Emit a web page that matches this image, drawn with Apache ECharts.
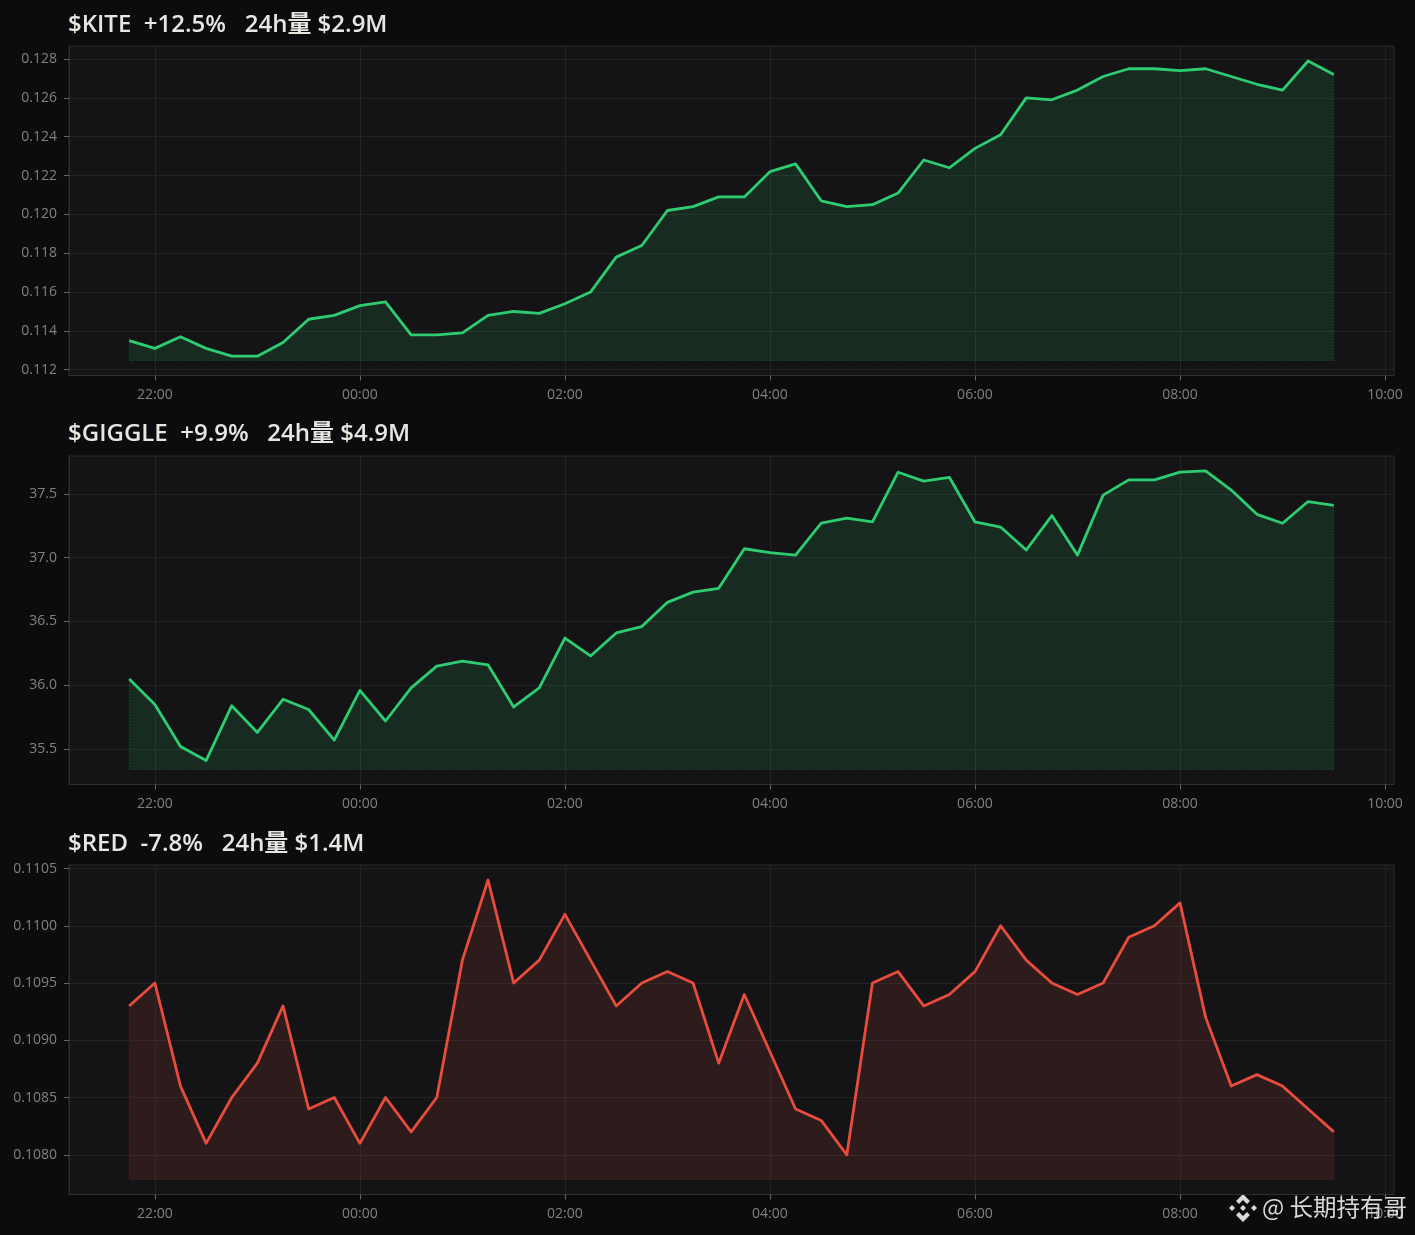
<!DOCTYPE html>
<html><head><meta charset="utf-8">
<style>html,body{margin:0;padding:0;background:#0c0c0e}#c{width:1415px;height:1235px}</style>
<script src="https://cdn.jsdelivr.net/npm/echarts@6/dist/echarts.min.js"></script>
</head><body><div id="c"></div>
<script>
const startHour = 21.75;
const xTickHours = [22, 24, 26, 28, 30, 32, 34];

const kiteTitle = '$KITE  +12.5%   24h量 $2.9M';
const giggleTitle = '$GIGGLE  +9.9%   24h量 $4.9M';
const redTitle = '$RED  -7.8%   24h量 $1.4M';

const kiteValues = [.1135,.1131,.1137,.1131,.1127,.1127,.1134,.1146,.1148,.1153,.1155,.1138,.1138,.1139,.1148,.1150,.1149,.1154,.1160,.1178,.1184,.1202,.1204,.1209,.1209,.1222,.1226,.1207,.1204,.1205,.1211,.1228,.1224,.1234,.1241,.1260,.1259,.1264,.1271,.1275,.1275,.1274,.1275,.1271,.1267,.1264,.1279,.1272];
const giggleValues = [36.05,35.85,35.52,35.41,35.84,35.63,35.89,35.81,35.57,35.96,35.72,35.98,36.15,36.19,36.16,35.83,35.98,36.37,36.23,36.41,36.46,36.65,36.73,36.76,37.07,37.04,37.02,37.27,37.31,37.28,37.67,37.60,37.63,37.28,37.24,37.06,37.33,37.02,37.49,37.61,37.61,37.67,37.68,37.53,37.34,37.27,37.44,37.41];
const redValues = [.1093,.1095,.1086,.1081,.1085,.1088,.1093,.1084,.1085,.1081,.1085,.1082,.1085,.1097,.1104,.1095,.1097,.1101,.1097,.1093,.1095,.1096,.1095,.1088,.1094,.1089,.1084,.1083,.1080,.1095,.1096,.1093,.1094,.1096,.1100,.1097,.1095,.1094,.1095,.1099,.1100,.1102,.1092,.1086,.1087,.1086,.1084,.1082];

const kiteTicks = [.112,.114,.116,.118,.120,.122,.124,.126,.128];
const giggleTicks = [35.5,36,36.5,37,37.5];
const redTicks = [.108,.1085,.109,.1095,.11,.1105];

const panels = [
  {title: kiteTitle, values: kiteValues, ticks: kiteTicks, dec: 3, color: '#2ecc71', rgb: '46,204,113', top: 46, h: 329.5, titleTop: 13},
  {title: giggleTitle, values: giggleValues, ticks: giggleTicks, dec: 1, color: '#2ecc71', rgb: '46,204,113', top: 456, h: 328.5, titleTop: 422},
  {title: redTitle, values: redValues, ticks: redTicks, dec: 4, color: '#e74c3c', rgb: '231,76,60', top: 865, h: 329.5, titleTop: 832}
];
const hours = kiteValues.map((_, i) => startHour + i / 4);
const xSpan = hours[hours.length - 1] - hours[0];
const xMin = hours[0] - xSpan * 0.05, xMax = hours[hours.length - 1] + xSpan * 0.05;
const two = n => String(n).padStart(2, '0');
const FONT = '"Open Sans","Noto Sans CJK SC",sans-serif';

const grid = [], xAxis = [], yAxis = [], series = [], title = [];
panels.forEach((p, i) => {
  const lo = Math.min(...p.values) * 0.998, hi = Math.max(...p.values);
  const pad = (hi - lo) * 0.05;
  title.push({text: p.title, left: 68, top: p.titleTop, padding: 0,
    textStyle: {color: '#e8e6e1', fontSize: 24, fontWeight: 600, fontFamily: FONT}});
  grid.push({left: 69, width: 1325, top: p.top, height: p.h, backgroundColor: '#141416', show: true, borderColor: '#2a2b2d', borderWidth: 1});
  xAxis.push({type: 'value', gridIndex: i, min: xMin, max: xMax, scale: true,
    axisLine: {show: true, onZero: false, lineStyle: {color: '#2e2f31'}},
    axisTick: {show: true, length: 5, customValues: xTickHours, lineStyle: {color: '#66676a'}},
    axisLabel: {show: true, customValues: xTickHours, color: '#808183', fontSize: 14, fontFamily: FONT, margin: 12.5, hideOverlap: false,
      formatter: v => two(v % 24) + ':00'},
    splitLine: {show: true, lineStyle: {color: '#222325', width: 1}}});
  yAxis.push({type: 'value', gridIndex: i, min: lo - pad, max: hi + pad, scale: true,
    axisLine: {show: true, onZero: false, lineStyle: {color: '#2e2f31'}},
    axisTick: {show: true, length: 5, customValues: p.ticks, lineStyle: {color: '#66676a'}},
    axisLabel: {show: true, customValues: p.ticks, color: '#808183', fontSize: 14, fontFamily: FONT, margin: 12,
      formatter: v => v.toFixed(p.dec)},
    splitLine: {show: true, lineStyle: {color: '#222325', width: 1}}});
  series.push({type: 'line', xAxisIndex: i, yAxisIndex: i, symbol: 'none', smooth: false, animation: false,
    data: p.values.map((v, k) => [hours[k], v]),
    lineStyle: {color: p.color, width: 2.8, join: 'round'},
    areaStyle: {origin: lo, color: `rgba(${p.rgb},0.18)`}, z: 3});
  series.push({type: 'line', xAxisIndex: i, yAxisIndex: i, symbol: 'none', animation: false, silent: true,
    data: [[hours[0], p.values[0]], [hours[0], lo], [hours[hours.length - 1], lo], [hours[hours.length - 1], p.values[p.values.length - 1]]],
    lineStyle: {color: `rgba(${p.rgb},0.35)`, width: 1, type: [1, 2]}, z: 2});
});

const chart = echarts.init(document.getElementById('c'), null, {renderer: 'canvas'});
chart.setOption({
  backgroundColor: '#0c0c0e', animation: false,
  title, grid, xAxis, yAxis, series,
  graphic: [
    {type: 'group', left: 1229, top: 1194, z: 100, children: [
      {type: 'polygon', shape: {points: [[14,0],[21,7],[18,10],[14,6],[10,10],[7,7]]}, style: {fill: '#d9d9d6'}},
      {type: 'polygon', shape: {points: [[14,28],[21,21],[18,18],[14,22],[10,18],[7,21]]}, style: {fill: '#d9d9d6'}},
      {type: 'polygon', shape: {points: [[0,14],[3,11],[6,14],[3,17]]}, style: {fill: '#d9d9d6'}},
      {type: 'polygon', shape: {points: [[22,14],[25,11],[28,14],[25,17]]}, style: {fill: '#d9d9d6'}},
      {type: 'polygon', shape: {points: [[14,11],[17,14],[14,17],[11,14]]}, style: {fill: '#d9d9d6'}}
    ]},
    {type: 'text', left: 1262, top: 1195, z: 100, style: {text: '@ 长期持有哥', fill: '#d9d9d6', font: '23.5px "Noto Sans CJK SC",sans-serif'}}
  ]
});
</script></body></html>
